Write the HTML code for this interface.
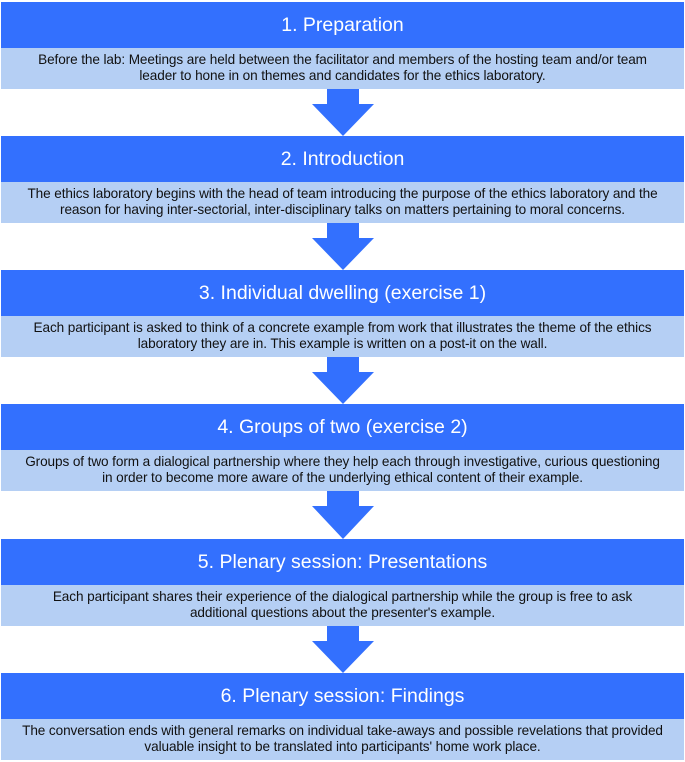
<!DOCTYPE html>
<html><head><meta charset="utf-8"><style>
body{margin:0;width:685px;height:762px;background:#fff;position:relative;overflow:hidden;font-family:"Liberation Sans",sans-serif}
.h{position:absolute;left:1px;width:683px;height:46px;background:#3370fe;color:#fff;font-size:19.5px;line-height:46px;text-align:center}
.b{position:absolute;left:1px;width:683px;height:41px;background:#b5cff4;color:#111;font-size:13.6px;line-height:16px;text-align:center;white-space:nowrap;box-sizing:border-box;padding-top:4px;letter-spacing:-0.1px}
svg{position:absolute;left:0;top:0}
</style></head><body>
<svg width="685" height="762">
<g fill="#3370fe">
<polygon points="327,89 359,89 359,104 374,104 343,136 312,104 327,104"/>
<polygon points="327,223 359,223 359,238 374,238 343,270 312,238 327,238"/>
<polygon points="327,357 359,357 359,372 374,372 343,404 312,372 327,372"/>
<polygon points="327,491 359,491 359,506 374,506 343,539 312,506 327,506"/>
<polygon points="327,626 359,626 359,641 374,641 343,673 312,641 327,641"/>
</g></svg>
<div class="h" style="top:2px">1. Preparation</div>
<div class="b" style="top:48px">Before the lab: Meetings are held between the facilitator and members of the hosting team and/or team<br>leader to hone in on themes and candidates for the ethics laboratory.</div>
<div class="h" style="top:136px">2. Introduction</div>
<div class="b" style="top:182px">The ethics laboratory begins with the head of team introducing the purpose of the ethics laboratory and the<br>reason for having inter-sectorial, inter-disciplinary talks on matters pertaining to moral concerns.</div>
<div class="h" style="top:270px">3. Individual dwelling (exercise 1)</div>
<div class="b" style="top:316px">Each participant is asked to think of a concrete example from work that illustrates the theme of the ethics<br>laboratory they are in. This example is written on a post-it on the wall.</div>
<div class="h" style="top:404px">4. Groups of two (exercise 2)</div>
<div class="b" style="top:450px">Groups of two form a dialogical partnership where they help each through investigative, curious questioning<br>in order to become more aware of the underlying ethical content of their example.</div>
<div class="h" style="top:539px">5. Plenary session: Presentations</div>
<div class="b" style="top:585px">Each participant shares their experience of the dialogical partnership while the group is free to ask<br>additional questions about the presenter's example.</div>
<div class="h" style="top:673px">6. Plenary session: Findings</div>
<div class="b" style="top:719px">The conversation ends with general remarks on individual take-aways and possible revelations that provided<br>valuable insight to be translated into participants' home work place.</div>
</body></html>
